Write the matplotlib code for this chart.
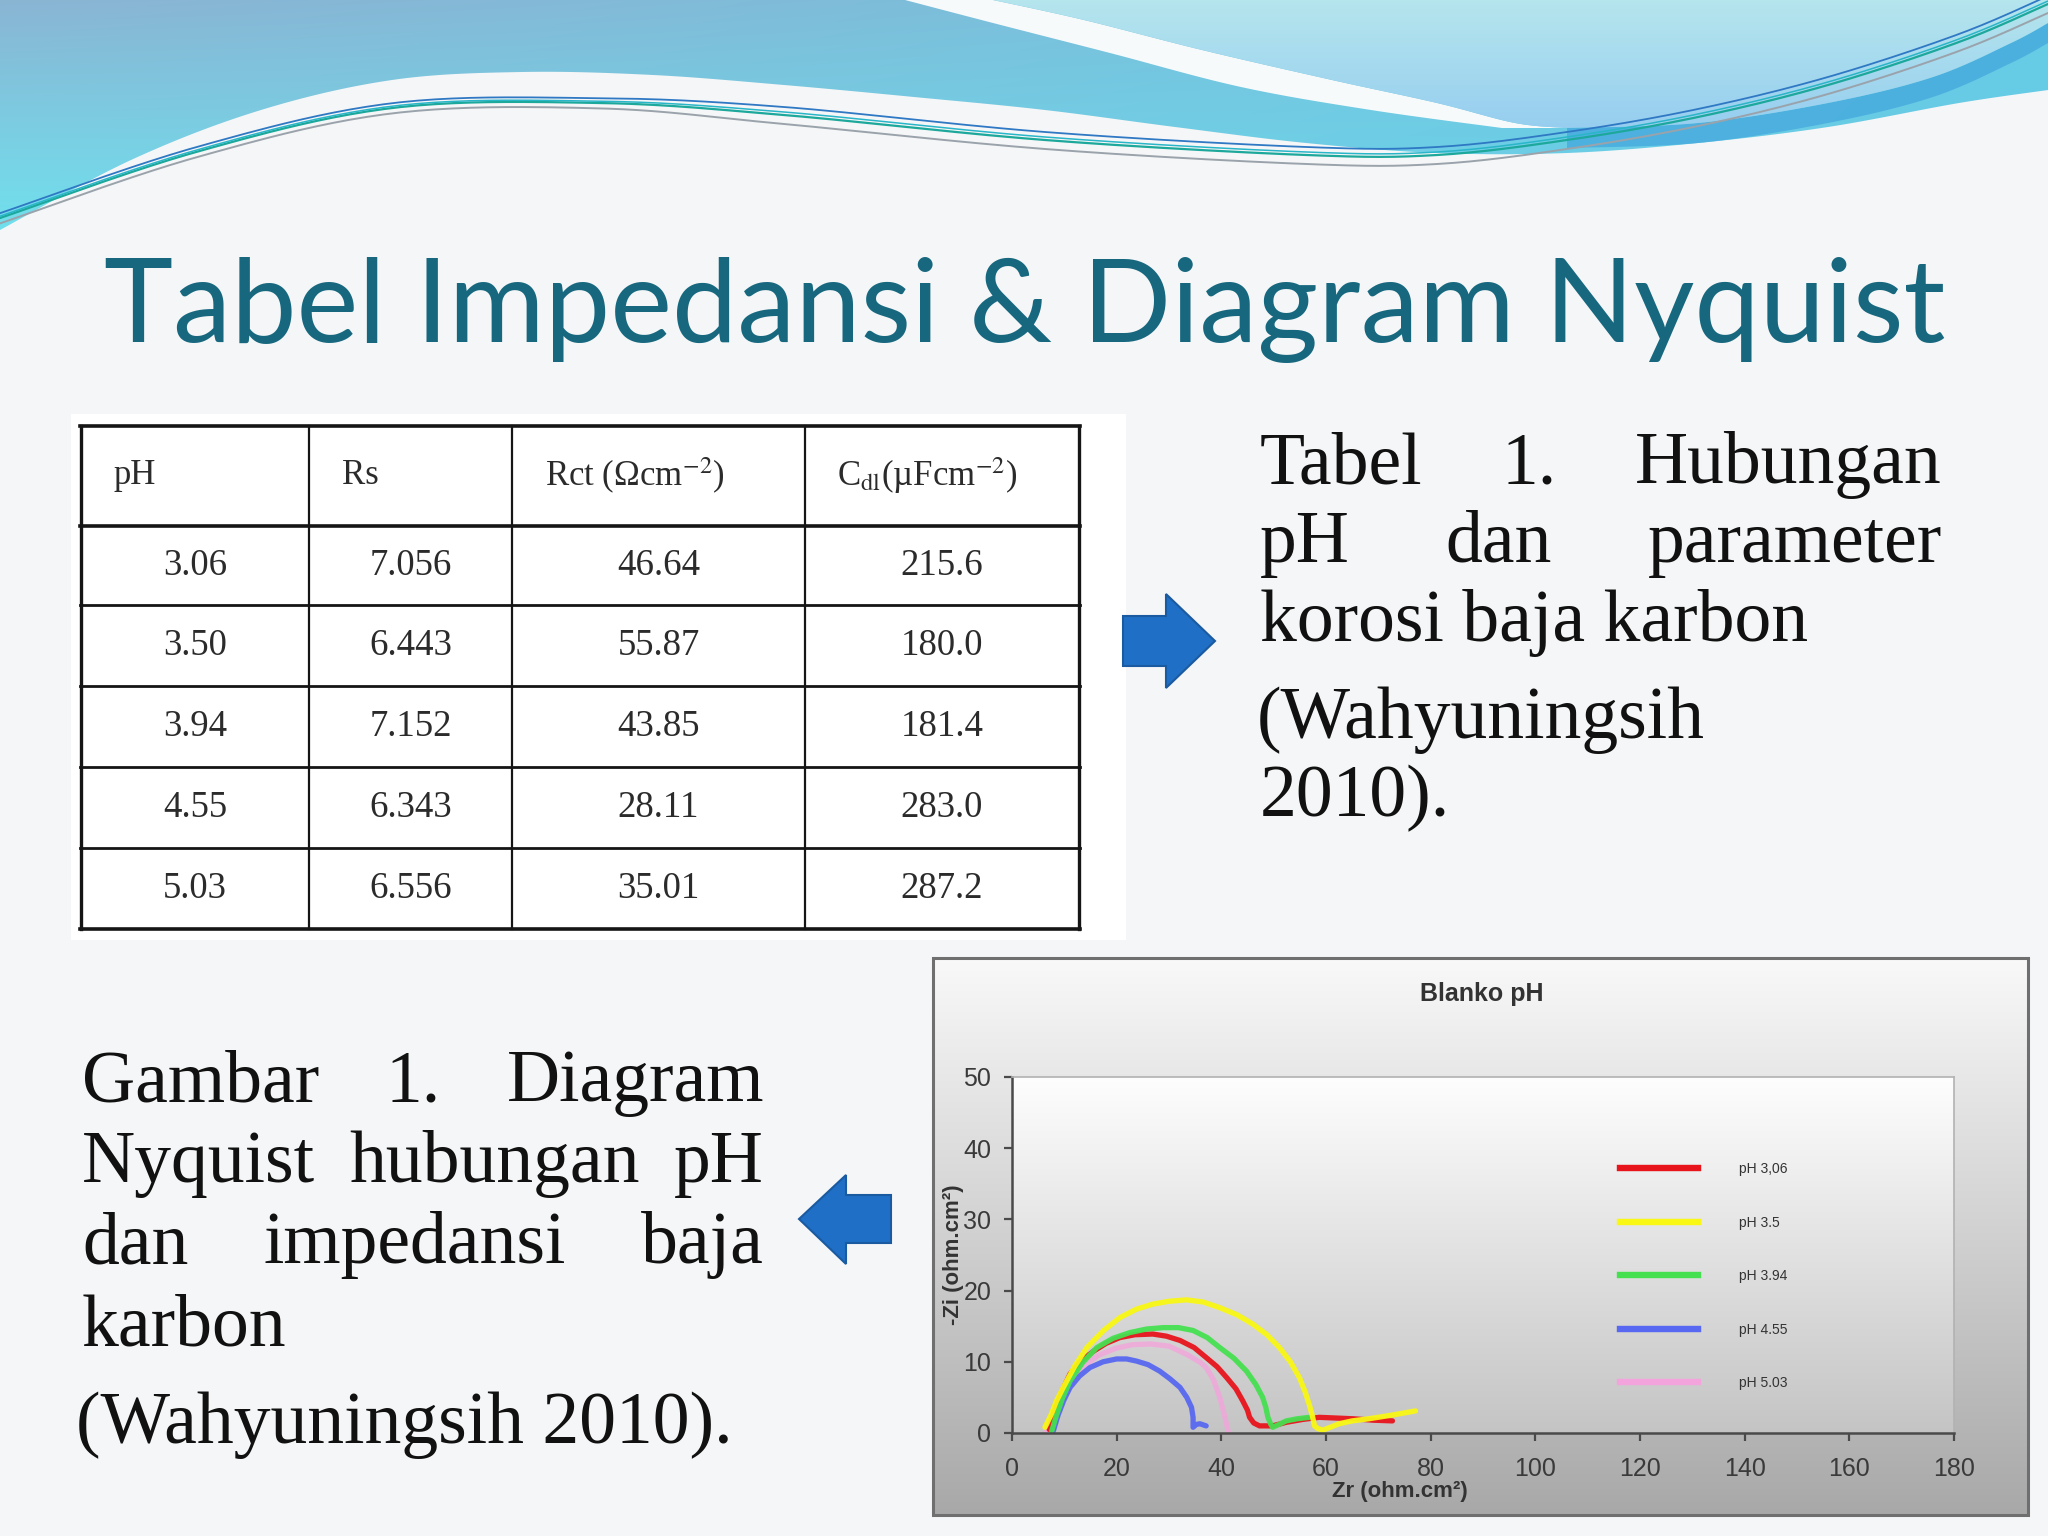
import numpy as np
import matplotlib
matplotlib.use("Agg")
import matplotlib.pyplot as plt
from matplotlib.patches import Polygon, Rectangle
from matplotlib.lines import Line2D

plt.rcParams['mathtext.fontset'] = 'stix'

# ---------------- content / data ----------------
TITLE = "Tabel Impedansi & Diagram Nyquist"

table_header = ["pH", "Rs", "Rct (Ωcm$^{-2}$)", "C$_{\\mathrm{dl}}$(µFcm$^{-2}$)"]
table_ph = ["3.06", "3.50", "3.94", "4.55", "5.03"]
table_rs = ["7.056", "6.443", "7.152", "6.343", "6.556"]
table_rct = ["46.64", "55.87", "43.85", "28.11", "35.01"]
table_cdl = ["215.6", "180.0", "181.4", "283.0", "287.2"]

right_caption = ["Tabel 1. Hubungan", "pH dan parameter", "korosi baja karbon"]
right_source = ["(Wahyuningsih", "2010)."]
left_caption = ["Gambar 1. Diagram", "Nyquist hubungan pH", "dan impedansi baja", "karbon"]
left_source = "(Wahyuningsih 2010)."

chart_title = "Blanko pH"
x_label = "Zr (ohm.cm²)"
y_label = "-Zi (ohm.cm²)"
x_ticks = [0, 20, 40, 60, 80, 100, 120, 140, 160, 180]
y_ticks = [0, 10, 20, 30, 40, 50]
series_labels = ["pH 3,06", "pH 3.5", "pH 3.94", "pH 4.55", "pH 5.03"]
series_colors = ["#e8141c", "#f9f714", "#45e050", "#5868f0", "#f4a4dc"]

# pH 3.06 (red)
red_x = [7.1, 8.0, 9.5, 11.1, 13.0, 15.6, 18.0, 20.6, 23.5, 26.9, 29.5, 32.1, 34.8, 37.1, 39.2,
         41.0, 42.8, 44.1, 45.0, 45.4, 46.2, 47.3, 49.8, 52.4, 55.5, 58.7, 62.0, 65.1, 69.0, 72.7]
red_y = [0.5, 3.0, 5.8, 8.3, 10.0, 11.5, 12.6, 13.4, 13.8, 13.9, 13.6, 13.0, 12.0, 10.6, 9.3,
         7.8, 6.2, 4.5, 3.2, 2.2, 1.4, 1.0, 1.0, 1.5, 1.9, 2.2, 2.1, 2.0, 1.8, 1.7]
# pH 3.5 (yellow)
yellow_x = [6.3, 7.5, 8.5, 9.8, 12.0, 14.3, 17.5, 20.6, 23.8, 26.9, 30.0, 33.3, 36.5, 39.7, 43.0,
            46.0, 48.7, 51.1, 53.2, 54.9, 56.0, 56.8, 57.4, 57.8, 58.5, 59.4, 60.8, 62.5, 65.0,
            68.2, 72.5, 77.1]
yellow_y = [0.8, 2.6, 4.5, 6.4, 9.4, 12.0, 14.4, 16.2, 17.4, 18.1, 18.5, 18.7, 18.4, 17.6, 16.6,
            15.3, 13.8, 12.0, 10.0, 7.8, 5.8, 4.0, 2.4, 1.0, 0.6, 0.4, 0.8, 1.3, 1.7,
            2.0, 2.5, 3.1]
# pH 3.94 (green)
green_x = [7.6, 8.5, 9.6, 11.1, 13.5, 16.2, 19.3, 22.5, 25.7, 28.9, 31.8, 34.6, 37.3, 39.7, 42.4,
           44.8, 46.6, 47.9, 48.5, 48.9, 49.4, 49.8, 51.0, 52.4, 54.5, 56.8]
green_y = [0.3, 2.5, 4.8, 7.3, 9.9, 12.0, 13.3, 14.1, 14.6, 14.8, 14.8, 14.4, 13.4, 12.0, 10.5,
           8.7, 6.8, 5.0, 3.6, 2.2, 1.3, 0.8, 1.2, 1.7, 2.0, 2.2]
# pH 4.55 (blue)
blue_x = [7.9, 8.8, 9.9, 11.1, 12.9, 14.9, 17.4, 20.0, 21.9, 23.8, 26.0, 28.2, 30.2, 32.1, 33.4,
          34.3, 34.6, 34.6, 35.2, 35.9, 37.1]
blue_y = [0.3, 2.5, 4.6, 6.4, 8.0, 9.2, 10.0, 10.4, 10.4, 10.1, 9.6, 8.7, 7.6, 6.4, 5.0,
          3.6, 2.2, 0.8, 1.2, 1.3, 1.0]
# pH 5.03 (pink)
pink_x = [6.6, 7.8, 9.3, 11.0, 13.5, 16.5, 19.8, 23.0, 26.5, 30.0, 33.5, 36.0, 37.1, 38.5, 39.7,
          40.6, 41.3]
pink_y = [0.3, 2.6, 5.0, 7.2, 9.3, 10.9, 11.9, 12.4, 12.5, 12.2, 11.0, 9.9, 9.2, 7.5, 5.0,
          2.5, 0.3]

series_x = [red_x, yellow_x, green_x, blue_x, pink_x]
series_y = [red_y, yellow_y, green_y, blue_y, pink_y]
draw_order = [4, 3, 0, 2, 1]

# ---------------- figure ----------------
W, H = 2048, 1536
fig = plt.figure(figsize=(W / 100, H / 100), dpi=100)
fig.patch.set_facecolor("#f5f6f7")
bg = fig.add_axes([0, 0, 1, 1])
bg.set_xlim(0, W)
bg.set_ylim(H, 0)
bg.axis("off")
R = fig.canvas.get_renderer()


def smooth(pts, n=24):
    pts = np.asarray(pts, float)
    P = np.vstack([pts[0], pts, pts[-1]])
    out = []
    t = np.linspace(0, 1, n, endpoint=False)[:, None]
    for i in range(1, len(P) - 2):
        p0, p1, p2, p3 = P[i - 1], P[i], P[i + 1], P[i + 2]
        seg = 0.5 * ((2 * p1) + (-p0 + p2) * t + (2 * p0 - 5 * p1 + 4 * p2 - p3) * t ** 2
                     + (-p0 + 3 * p1 - 3 * p2 + p3) * t ** 3)
        out.append(seg)
    out.append(pts[-1][None])
    return np.vstack(out)


# ---- top decoration ----
a_lower = smooth([(0, 230), (131, 160), (261, 110), (392, 80), (522, 72), (653, 75), (784, 85),
                  (914, 97), (1045, 110), (1175, 127), (1306, 143), (1437, 153), (1567, 153),
                  (1698, 143), (1828, 127), (1959, 103), (2048, 90)])
polyA = Polygon(np.vstack([a_lower, [(2048, 0), (0, 0)]]), closed=True, facecolor="none",
                edgecolor="none")
bg.add_patch(polyA)
gy, gx = np.mgrid[0:240, 0:2048]
ty = np.clip(gy / 230.0, 0, 1)[..., None]
tx = (gx / 2048.0)[..., None]
c_tl = np.array([0.54, 0.71, 0.83])
c_bl = np.array([0.44, 0.88, 0.93])
c_r = np.array([0.40, 0.80, 0.90])
imgA = (1 - ty) * c_tl + ty * c_bl
imgA = (1 - tx ** 1.3) * imgA + tx ** 1.3 * c_r
imA = bg.imshow(imgA, extent=(0, 2048, 240, 0), aspect="auto", zorder=1)
imA.set_clip_path(polyA)

stripe_l = smooth([(905, 0), (993, 23), (1110, 53), (1241, 87), (1371, 110), (1502, 128)])
stripe_r = smooth([(993, 0), (1084, 20), (1202, 50), (1332, 80), (1437, 103), (1515, 123),
                   (1567, 128)])
bg.add_patch(Polygon(np.vstack([stripe_l, stripe_r[::-1]]), closed=True,
                     facecolor="#f7fafb", edgecolor="none", zorder=2))

b_bottom = smooth([(1567, 128), (1698, 123), (1828, 103), (1933, 77), (2011, 43), (2048, 23)])
band = np.vstack([b_bottom, (b_bottom + [0, 20])[::-1]])
bg.add_patch(Polygon(band, closed=True, facecolor="#48acdf", edgecolor="none", alpha=0.85,
                     zorder=2))
polyB = Polygon(np.vstack([stripe_r, b_bottom, [(2048, 0)]]), closed=True, facecolor="none",
                edgecolor="none")
bg.add_patch(polyB)
gyb = np.linspace(0, 1, 140)[:, None, None]
imgB = (1 - gyb) * np.array([0.71, 0.90, 0.93]) + gyb * np.array([0.58, 0.80, 0.94])
imgB = np.repeat(imgB, 2, axis=1)
imB = bg.imshow(imgB, extent=(900, 2048, 140, 0), aspect="auto", zorder=3)
imB.set_clip_path(polyB)

line_base = [(0, 218), (196, 152), (392, 108), (600, 103), (784, 115), (1045, 140), (1306, 155),
             (1437, 155), (1567, 140), (1698, 117), (1828, 85), (1959, 42), (2048, 4)]
for off, col, lw in [(0, "#1da89c", 1.6), (-8, "#2f78c4", 1.3), (9, "#9aa3ab", 1.4),
                     (-3, "#29b6c8", 1.1)]:
    pts = smooth([(x, y + off * (1 if x > 700 else 0.6)) for x, y in line_base])
    bg.plot(pts[:, 0], pts[:, 1], color=col, lw=lw, zorder=4, solid_capstyle="round")


def fit_size(s, family, target_w, base=50.0, **kw):
    t = bg.text(0, 0, s, fontsize=base, family=family, **kw)
    w = t.get_window_extent(renderer=R).width
    t.remove()
    return base * target_w / w


def text_w(s, family, size, **kw):
    t = bg.text(0, 0, s, fontsize=size, family=family, **kw)
    w = t.get_window_extent(renderer=R).width
    t.remove()
    return w


def justify(line, x0, x1, yb, size, family, color):
    words = line.split(" ")
    widths = [text_w(w, family, size) for w in words]
    gap = (x1 - x0 - sum(widths)) / (len(words) - 1)
    x = x0
    for w, wd in zip(words, widths):
        bg.text(x, yb, w, fontsize=size, family=family, color=color, ha="left",
                va="baseline", zorder=5)
        x += wd + gap


# ---- title ----
title_fam = ["Lato", "DejaVu Sans"]
ts = fit_size(TITLE, title_fam, 1842)
bg.text(104, 342, TITLE, fontsize=ts, family=title_fam, color="#17687f", ha="left",
        va="baseline", zorder=5)

# ---- table ----
bg.add_patch(Rectangle((71, 414), 1055, 526, facecolor="white", edgecolor="none", zorder=1))
col_edges = [81, 309, 512, 805, 1079]
row_edges = [426, 526, 605, 686, 767, 848, 929]
for x in col_edges:
    bg.plot([x, x], [row_edges[0], row_edges[-1]], color="#151515",
            lw=2.4 if x in (col_edges[0], col_edges[-1]) else 1.6, zorder=5)
for i, y in enumerate(row_edges):
    bg.plot([col_edges[0] - 1, col_edges[-1] + 1], [y, y], color="#151515",
            lw=2.6 if i in (0, 1, len(row_edges) - 1) else 2.0, zorder=5)
tab_fam = ["Liberation Serif", "DejaVu Serif"]
hdr_x = [114, 342, 545, 837]
for hx, h in zip(hdr_x, table_header):
    bg.text(hx, (row_edges[0] + row_edges[1]) / 2, h, fontsize=25, family=tab_fam,
            color="#2b2b2b", ha="left", va="center", zorder=6)
cols = [table_ph, table_rs, table_rct, table_cdl]
for c, vals in enumerate(cols):
    cx = (col_edges[c] + col_edges[c + 1]) / 2
    for r, v in enumerate(vals):
        cy = (row_edges[r + 1] + row_edges[r + 2]) / 2
        bg.text(cx, cy, v, fontsize=26.5, family=tab_fam, color="#2b2b2b", ha="center",
                va="center", zorder=6)

# ---- captions ----
cap_fam = ["Liberation Serif", "DejaVu Serif"]
cs = 53
cap_col = "#111111"
for line, yb in zip(right_caption, [483, 562, 641]):
    if line == right_caption[-1]:
        bg.text(1260, yb, line, fontsize=cs, family=cap_fam, color=cap_col, va="baseline",
                zorder=5)
    else:
        justify(line, 1260, 1942, yb, cs, cap_fam, cap_col)
for line, yb in zip(right_source, [738, 816]):
    bg.text(1257 if line.startswith("(") else 1260, yb, line, fontsize=cs, family=cap_fam,
            color=cap_col, va="baseline", zorder=5)

for line, yb in zip(left_caption, [1101, 1182, 1263, 1345]):
    if line == left_caption[-1]:
        bg.text(82, yb, line, fontsize=cs, family=cap_fam, color=cap_col, va="baseline",
                zorder=5)
    else:
        justify(line, 82, 764, yb, cs, cap_fam, cap_col)
bg.text(76, 1443, left_source, fontsize=cs, family=cap_fam, color=cap_col, va="baseline",
        zorder=5)

# ---- arrows ----
arrow_r = [(1123, 616), (1166, 616), (1166, 594), (1215, 641), (1166, 688), (1166, 666),
           (1123, 666)]
arrow_l = [(891, 1195), (846, 1195), (846, 1175), (799, 1219), (846, 1264), (846, 1243),
           (891, 1243)]
for pts in (arrow_r, arrow_l):
    bg.add_patch(Polygon(pts, closed=True, facecolor="#1f6fc6", edgecolor="#1a5aa0", lw=1.5,
                         zorder=5))

# ---- chart frame ----
cx0, cx1, cy0, cy1 = 933, 2028, 958, 1515
grad_o = np.linspace(0.975, 0.66, 256)[:, None, None] * np.ones((1, 2, 3))
bg.imshow(grad_o, extent=(cx0, cx1, cy1, cy0), aspect="auto", zorder=5)
bg.add_patch(Rectangle((cx0, cy0), cx1 - cx0, cy1 - cy0, facecolor="none",
                       edgecolor="#6f6f6f", lw=2.2, zorder=6))
px0, px1, py0, py1 = 1012, 1954, 1077, 1433
grad_i = np.linspace(0.995, 0.77, 256)[:, None, None] * np.ones((1, 2, 3))
bg.imshow(grad_i, extent=(px0, px1, py1, py0), aspect="auto", zorder=6)
bg.set_xlim(0, W)
bg.set_ylim(H, 0)

bg.text(1482, 994, chart_title, fontsize=18, fontweight="bold",
        family=["Liberation Sans", "DejaVu Sans"], color="#333333", ha="center",
        va="center", zorder=7)

ax = fig.add_axes([px0 / W, 1 - py1 / H, (px1 - px0) / W, (py1 - py0) / H])
ax.patch.set_alpha(0)
narrow = ["Liberation Sans Narrow", "Liberation Sans", "DejaVu Sans"]
for i in draw_order:
    ax.plot(series_x[i], series_y[i], color=series_colors[i], lw=3.8, solid_capstyle="round",
            solid_joinstyle="round", alpha=0.95 if i != 4 else 0.8)
ax.set_xlim(0, 180)
ax.set_ylim(0, 50)
ax.set_xticks(x_ticks)
ax.set_yticks(y_ticks)
for s in ("left", "bottom"):
    ax.spines[s].set_color("#4a4a4a")
    ax.spines[s].set_linewidth(1.8)
for s in ("top", "right"):
    ax.spines[s].set_color("#b2b2b2")
    ax.spines[s].set_linewidth(1.2)
ax.tick_params(direction="out", length=6, width=1.6, color="#4a4a4a", labelsize=18,
               labelcolor="#3a3a3a")
ax.tick_params(axis="x", pad=11)
ax.tick_params(axis="y", pad=9)
for lab in ax.get_xticklabels() + ax.get_yticklabels():
    lab.set_family(narrow)

ax.set_xlabel(x_label, fontsize=16, fontweight="bold", family=narrow, color="#333333")
ax.set_ylabel(y_label, fontsize=16, fontweight="bold", family=narrow, color="#333333")
ax.xaxis.label.set_va("center")
ax.yaxis.label.set_va("center")
ax.xaxis.set_label_coords((1400 - px0) / (px1 - px0), -(1491 - py1) / (py1 - py0))
ax.yaxis.set_label_coords(-(px0 - 953) / (px1 - px0), 0.5)

handles = [Line2D([], [], color=c, lw=4.6) for c in series_colors]
ax.legend(handles, series_labels, loc="upper left",
          bbox_to_anchor=((1620 - px0) / (px1 - px0), (py1 - 1162) / (py1 - py0)),
          frameon=False, prop={"family": narrow, "size": 10}, handlelength=5.6,
          labelspacing=2.85, handletextpad=3.0, borderpad=0, borderaxespad=0,
          labelcolor="#333333")

fig.savefig("out.png", dpi=100, facecolor=fig.get_facecolor())
